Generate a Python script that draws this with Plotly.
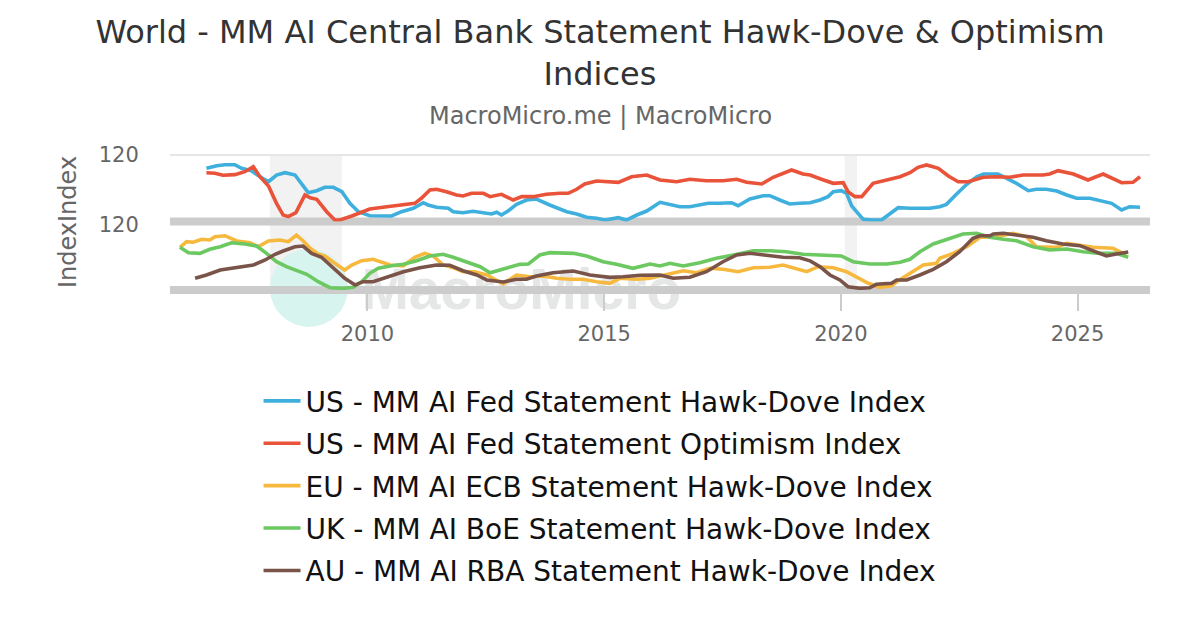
import plotly.graph_objects as go

# ---- data (decimal year, index value) ----
us_hawk = [(2006.60, 96.0), (2006.82, 100.7), (2006.99, 102.5), (2007.20, 102.5), (2007.34, 96.0), (2007.55, 91.7),
           (2007.73, 80.8), (2007.91, 71.8), (2008.08, 83.9), (2008.26, 88.1), (2008.47, 83.9), (2008.61, 68.9),
           (2008.75, 52.0), (2008.93, 55.6), (2009.10, 61.7), (2009.28, 61.7), (2009.46, 53.8), (2009.63, 32.8),
           (2009.81, 17.7), (2010.05, 10.5), (2010.33, 9.9), (2010.51, 9.9), (2010.72, 17.7), (2010.97, 23.8),
           (2011.18, 33.9), (2011.28, 29.8), (2011.46, 25.6), (2011.71, 23.8), (2011.81, 17.7), (2012.02, 15.9),
           (2012.23, 18.4), (2012.45, 15.9), (2012.62, 13.5), (2012.73, 16.6), (2012.83, 11.7), (2012.97, 18.9),
           (2013.15, 31.0), (2013.36, 38.8), (2013.57, 40.6), (2013.85, 29.8), (2014.21, 17.7), (2014.42, 13.5),
           (2014.63, 7.6), (2014.84, 5.8), (2015.02, 2.7), (2015.30, 6.9), (2015.47, 2.7), (2015.69, 11.7),
           (2015.90, 18.9), (2016.18, 34.6), (2016.39, 31.0), (2016.60, 26.7), (2016.81, 26.7), (2017.02, 29.8),
           (2017.20, 32.8), (2017.44, 32.8), (2017.69, 33.9), (2017.83, 28.5), (2018.08, 40.6), (2018.36, 46.6),
           (2018.50, 46.6), (2018.71, 38.8), (2018.92, 31.6), (2019.13, 32.8), (2019.35, 33.9), (2019.56, 38.8),
           (2019.73, 44.8), (2019.84, 53.8), (2020.01, 55.6), (2020.12, 50.9), (2020.23, 28.0), (2020.33, 17.7),
           (2020.47, 4.0), (2020.65, 2.7), (2020.86, 2.7), (2021.03, 13.5), (2021.21, 24.9), (2021.46, 23.8),
           (2021.74, 24.4), (2021.88, 23.8), (2022.09, 26.7), (2022.23, 31.0), (2022.44, 49.1), (2022.66, 67.1),
           (2022.87, 80.8), (2023.01, 85.7), (2023.32, 85.7), (2023.50, 78.0), (2023.71, 68.9), (2023.96, 55.6),
           (2024.13, 58.1), (2024.34, 58.1), (2024.56, 55.0), (2024.77, 47.8), (2024.98, 41.9), (2025.26, 41.9),
           (2025.47, 37.5), (2025.72, 32.8), (2025.93, 20.8), (2026.10, 26.7), (2026.32, 25.6)]

us_optimism = [(2006.60, 88.1), (2006.78, 87.0), (2006.95, 83.4), (2007.20, 84.5), (2007.41, 89.9), (2007.59, 98.9),
               (2007.73, 80.8), (2007.91, 64.1), (2008.08, 32.8), (2008.22, 11.7), (2008.33, 8.7), (2008.49, 15.9),
               (2008.68, 47.8), (2008.79, 42.9), (2008.93, 40.1), (2009.14, 17.7), (2009.31, 2.7), (2009.42, 2.7),
               (2009.67, 9.9), (2010.05, 22.6), (2010.41, 26.7), (2010.76, 31.0), (2011.00, 32.8), (2011.14, 41.9),
               (2011.32, 56.8), (2011.46, 58.1), (2011.67, 53.8), (2011.88, 47.8), (2012.02, 46.0), (2012.20, 50.9),
               (2012.45, 50.9), (2012.59, 44.8), (2012.83, 49.1), (2013.08, 38.8), (2013.26, 44.8), (2013.50, 44.8),
               (2013.78, 49.1), (2014.07, 50.9), (2014.24, 50.9), (2014.42, 58.1), (2014.59, 67.7), (2014.84, 73.1),
               (2015.05, 71.3), (2015.30, 70.7), (2015.58, 80.8), (2015.90, 83.9), (2016.18, 74.9), (2016.53, 71.8),
               (2016.81, 76.2), (2017.16, 73.6), (2017.51, 73.6), (2017.80, 76.2), (2018.01, 70.7), (2018.33, 67.7),
               (2018.57, 79.8), (2018.96, 92.9), (2019.20, 85.7), (2019.35, 83.9), (2019.59, 76.2), (2019.84, 68.9),
               (2020.05, 70.0), (2020.15, 53.8), (2020.30, 44.8), (2020.44, 44.8), (2020.68, 68.9), (2020.97, 74.9),
               (2021.25, 80.8), (2021.46, 88.1), (2021.63, 97.8), (2021.81, 102.0), (2022.06, 96.0), (2022.27, 82.1),
               (2022.48, 71.8), (2022.69, 71.8), (2023.01, 79.8), (2023.29, 80.8), (2023.57, 79.8), (2023.85, 83.9),
               (2024.27, 83.9), (2024.41, 85.7), (2024.59, 91.7), (2024.91, 85.7), (2025.22, 74.9), (2025.54, 85.7),
               (2025.93, 70.0), (2026.17, 70.7), (2026.32, 80.8)]

eu_hawk = [(2006.04, 78.8), (2006.18, 89.2), (2006.32, 88.1), (2006.50, 93.6), (2006.67, 92.3), (2006.78, 98.4),
           (2006.99, 100.2), (2007.13, 95.4), (2007.24, 90.5), (2007.52, 87.3), (2007.69, 79.9), (2007.91, 90.5),
           (2008.15, 92.3), (2008.33, 89.2), (2008.50, 101.5), (2008.64, 91.0), (2008.79, 77.0), (2008.96, 66.5),
           (2009.10, 62.8), (2009.31, 49.3), (2009.52, 36.9), (2009.67, 46.2), (2009.88, 54.1), (2010.12, 56.7),
           (2010.30, 52.2), (2010.48, 46.2), (2010.76, 44.3), (2011.00, 60.4), (2011.21, 67.7), (2011.39, 62.8),
           (2011.60, 46.2), (2011.85, 40.1), (2012.02, 33.8), (2012.27, 33.8), (2012.52, 27.7), (2012.59, 24.6),
           (2012.87, 11.1), (2013.15, 27.7), (2013.43, 24.6), (2013.71, 25.8), (2014.00, 21.6), (2014.28, 19.8),
           (2014.56, 19.8), (2014.84, 15.3), (2015.12, 12.4), (2015.33, 21.6), (2015.69, 19.8), (2015.97, 21.6),
           (2016.18, 25.8), (2016.42, 29.5), (2016.67, 35.6), (2016.95, 31.9), (2017.23, 40.1), (2017.51, 38.2),
           (2017.83, 33.8), (2018.15, 41.2), (2018.50, 41.9), (2018.78, 46.2), (2019.06, 40.1), (2019.28, 33.8),
           (2019.52, 43.0), (2019.84, 41.2), (2020.12, 33.8), (2020.33, 23.4), (2020.58, 12.4), (2020.82, 5.0),
           (2021.07, 7.9), (2021.18, 15.3), (2021.53, 33.8), (2021.74, 46.2), (2022.02, 49.3), (2022.09, 58.5),
           (2022.37, 67.7), (2022.66, 79.9), (2022.94, 97.3), (2023.29, 98.4), (2023.64, 104.7), (2023.92, 98.4),
           (2024.13, 79.9), (2024.55, 78.8), (2024.77, 86.2), (2025.33, 78.8), (2025.75, 77.0), (2026.03, 64.6)]

uk_hawk = [(2006.04, 78.8), (2006.22, 68.9), (2006.46, 67.7), (2006.67, 75.1), (2006.89, 79.9), (2007.13, 87.3),
           (2007.41, 84.9), (2007.66, 81.2), (2007.87, 67.7), (2008.08, 52.2), (2008.29, 43.0), (2008.50, 35.6),
           (2008.72, 29.0), (2008.96, 15.3), (2009.21, 4.2), (2009.49, 3.1), (2009.70, 5.0), (2009.88, 15.3),
           (2010.05, 30.8), (2010.23, 40.1), (2010.51, 44.9), (2010.76, 47.4), (2011.04, 54.1), (2011.32, 62.8),
           (2011.60, 65.9), (2011.81, 60.4), (2012.10, 52.2), (2012.38, 43.0), (2012.59, 31.9), (2012.87, 38.2),
           (2013.22, 47.4), (2013.40, 48.0), (2013.64, 64.6), (2013.85, 68.9), (2014.35, 67.7), (2014.63, 62.8),
           (2014.98, 52.2), (2015.26, 47.4), (2015.61, 40.1), (2015.97, 48.0), (2016.18, 44.3), (2016.39, 49.3),
           (2016.67, 44.3), (2017.02, 50.4), (2017.37, 58.5), (2017.73, 64.6), (2018.15, 72.5), (2018.50, 72.5),
           (2018.85, 70.7), (2019.20, 65.9), (2019.52, 64.6), (2019.70, 64.1), (2020.01, 62.8), (2020.26, 52.2),
           (2020.61, 48.0), (2020.97, 48.0), (2021.25, 51.1), (2021.46, 56.7), (2021.67, 70.7), (2021.95, 84.9),
           (2022.30, 95.4), (2022.58, 103.4), (2022.87, 104.7), (2023.15, 97.3), (2023.43, 93.6), (2023.71, 91.0),
           (2024.06, 79.9), (2024.41, 73.8), (2024.77, 75.7), (2025.12, 70.7), (2025.47, 67.7), (2025.82, 67.7),
           (2026.07, 60.4)]

au_hawk = [(2006.36, 21.6), (2006.60, 27.7), (2006.89, 36.9), (2007.24, 41.2), (2007.59, 46.2), (2007.84, 55.4),
           (2008.05, 65.9), (2008.22, 72.0), (2008.47, 79.9), (2008.64, 81.2), (2008.82, 67.7), (2009.03, 60.4),
           (2009.28, 40.1), (2009.52, 21.6), (2009.74, 9.2), (2009.91, 15.3), (2010.12, 15.3), (2010.41, 23.4),
           (2010.76, 33.8), (2011.11, 41.2), (2011.46, 46.2), (2011.74, 45.6), (2012.02, 35.6), (2012.31, 27.7),
           (2012.52, 18.5), (2012.87, 14.8), (2013.15, 19.8), (2013.36, 19.8), (2013.57, 25.8), (2013.92, 31.9),
           (2014.35, 35.1), (2014.70, 27.7), (2015.12, 23.4), (2015.40, 24.6), (2015.76, 27.1), (2016.18, 27.7),
           (2016.46, 21.6), (2016.81, 23.4), (2017.16, 33.8), (2017.51, 52.2), (2017.80, 64.6), (2018.08, 67.7),
           (2018.43, 64.6), (2018.78, 60.4), (2019.13, 59.6), (2019.35, 53.8), (2019.56, 43.0), (2019.77, 27.7),
           (2019.98, 18.5), (2020.15, 6.1), (2020.40, 3.1), (2020.61, 4.2), (2020.75, 10.5), (2021.07, 12.4),
           (2021.18, 18.5), (2021.39, 18.5), (2021.67, 27.7), (2021.95, 38.2), (2022.23, 52.2), (2022.51, 70.7),
           (2022.79, 95.4), (2022.94, 100.2), (2023.15, 100.2), (2023.22, 103.4), (2023.43, 104.7), (2023.71, 101.5),
           (2024.06, 97.3), (2024.34, 91.0), (2024.69, 84.9), (2025.05, 81.8), (2025.33, 72.5), (2025.61, 62.8),
           (2025.82, 66.5), (2026.07, 70.1)]

series_names = ["US - MM AI Fed Statement Hawk-Dove Index",
                "US - MM AI Fed Statement Optimism Index",
                "EU - MM AI ECB Statement Hawk-Dove Index",
                "UK - MM AI BoE Statement Hawk-Dove Index",
                "AU - MM AI RBA Statement Hawk-Dove Index"]
series_data = [us_hawk, us_optimism, eu_hawk, uk_hawk, au_hawk]
series_axis = ["y", "y", "y2", "y2", "y2"]
series_colors = ["#3fb0dd", "#e9533a", "#f6b93e", "#6cc860", "#7a5449"]

x_ticks = [2010, 2015, 2020, 2025]
x_tick_labels = ["2010", "2015", "2020", "2025"]
y_ticks = [120]
y_tick_labels = ["120"]
recessions = [(2007.94, 2009.46), (2020.08, 2020.34)]

FONT = "DejaVu Sans"

fig = go.Figure()
for i, (name, data, ax, col) in enumerate(zip(series_names, series_data, series_axis, series_colors)):
    fig.add_trace(go.Scatter(
        x=[p[0] for p in data], y=[p[1] for p in data],
        mode="lines", name=name, yaxis=ax, xaxis="x", legendgroup=f"g{i}",
        line=dict(color=col, width=3.6),
    ))

shapes = []
for a, b in recessions:
    shapes.append(dict(type="rect", xref="x", yref="paper", x0=a, x1=b, y0=0, y1=1,
                       fillcolor="#f2f2f2", line=dict(width=0), layer="below"))
# watermark
shapes.append(dict(type="circle", xref="paper", yref="paper", x0=0.102, x1=0.1816, y0=-0.274, y1=0.304,
                   fillcolor="#d8f4ee", line=dict(width=0), layer="below"))
shapes.append(dict(type="rect", xref="paper", yref="paper", x0=0.195, x1=0.522, y0=-0.145, y1=0.235,
                   fillcolor="rgba(0,0,0,0)", line=dict(width=0), layer="below",
                   label=dict(text="MacroMicro", textposition="middle center",
                              font=dict(family="Liberation Sans", size=57, color="#e5e7e7", weight="bold"))))
# top grid line
shapes.append(dict(type="line", xref="paper", yref="y domain", x0=0, x1=1, y0=1, y1=1,
                   line=dict(color="#e6e6e6", width=2), layer="below"))
# panel base bands
for ref in ["y domain", "y2 domain"]:
    shapes.append(dict(type="line", xref="paper", yref=ref, x0=0, x1=1, y0=0, y1=0,
                       line=dict(color="#cccccc", width=8), layer="below"))

yaxis_common = dict(range=[0, 120], tickvals=y_ticks, ticktext=y_tick_labels, zeroline=False,
                    showline=False, ticks="outside", ticklen=26, tickcolor="rgba(0,0,0,0)",
                    tickfont=dict(size=21, color="#666666", family=FONT), anchor="x",
                    showgrid=False, fixedrange=True)

fig.update_layout(
    width=1200, height=630,
    margin=dict(l=170, r=50, t=155, b=340),
    paper_bgcolor="white", plot_bgcolor="rgba(0,0,0,0)",
    font=dict(family=FONT, color="#333333"),
    title=dict(text="World - MM AI Central Bank Statement Hawk-Dove & Optimism<br>Indices",
               x=0.5, xanchor="center", xref="container",
               y=1 - 43 / 630, yanchor="middle", yref="container",
               font=dict(size=32, color="#333333", family=FONT)),
    xaxis=dict(range=[2005.83, 2026.53], anchor="y2", tickvals=x_ticks, ticktext=x_tick_labels,
               ticks="outside", ticklen=20, tickwidth=1.5, tickcolor="#cccccc", ticklabelstandoff=5,
               showgrid=False, zeroline=False, showline=False,
               tickfont=dict(size=21, color="#666666", family=FONT)),
    yaxis=dict(domain=[0.5074, 1], **yaxis_common),
    yaxis2=dict(domain=[0, 0.4815], **yaxis_common),
    shapes=shapes,
    showlegend=True,
    legend=dict(orientation="v", x=0.4383, xanchor="center", y=-0.638, yanchor="top",
                font=dict(size=28, color="#111111", family=FONT), bgcolor="rgba(0,0,0,0)",
                traceorder="grouped", tracegroupgap=3, itemwidth=37),
    annotations=[
        dict(text="MacroMicro.me | MacroMicro", xref="paper", yref="paper", x=0.4388, y=1.289,
             xanchor="center", yanchor="middle", showarrow=False,
             font=dict(size=24, color="#666666", family=FONT)),
        dict(text="IndexIndex", xref="paper", yref="paper", x=-0.104, y=0.504, textangle=-90,
             xanchor="center", yanchor="middle", showarrow=False,
             font=dict(size=24, color="#666666", family=FONT)),
    ],
)

fig.write_html("out.html")
